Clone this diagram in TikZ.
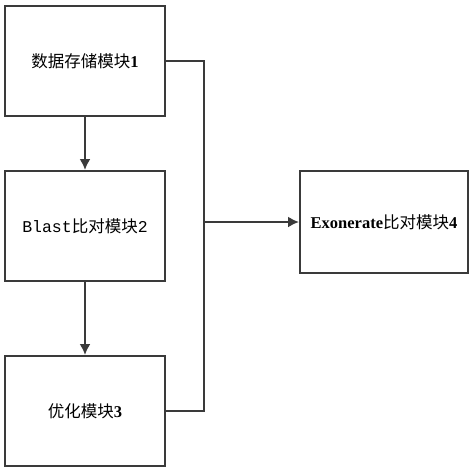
\documentclass[tikz,border=0pt]{standalone}
\usepackage{fontspec}
\setmainfont{Liberation Serif}
\newfontfamily\cjk{Noto Sans CJK SC}
\newfontfamily\mono{Liberation Mono}
\usetikzlibrary{arrows.meta}
\definecolor{linegray}{HTML}{3A3A3A}
\begin{document}
\begin{tikzpicture}[x=1pt,y=-1pt]

        \useasboundingbox (0,0) rectangle (474,472);

        \begin{scope}[every node/.style={rectangle,draw=linegray,line width=2pt,
            minimum width=160pt,minimum height=110pt,inner sep=0pt,font=\fontsize{16.5}{19}\selectfont}]
          \node (1)  at (85,61)   {{\cjk 数据存储模块}\textbf{1}};
          \node (2)  at (85,226)  {{\mono Blast}{\cjk 比对模块}{\mono 2}};
          \node (3)  at (85,411)  {{\cjk 优化模块}\textbf{3}};
          \node[minimum width=168pt,minimum height=102pt] (4)  at (384,222)  {\textbf{Exonerate}{\cjk 比对模块}\textbf{4}};
        \end{scope}

        \coordinate (j) at (204,222);

        \begin{scope}[every path/.style={draw=linegray,line width=2pt}]
          \path[-{Latex[length=11pt,width=11pt]}] (1)  edge (2);
          \path[-{Latex[length=11pt,width=11pt]}] (2)  edge (3);
          \draw (1.east) -| (j);
          \draw (3.east) -| (j);
          \draw[-{Latex[length=11pt,width=11pt]}] (j) -- (4.west);
        \end{scope}

      \end{tikzpicture}
\end{document}
